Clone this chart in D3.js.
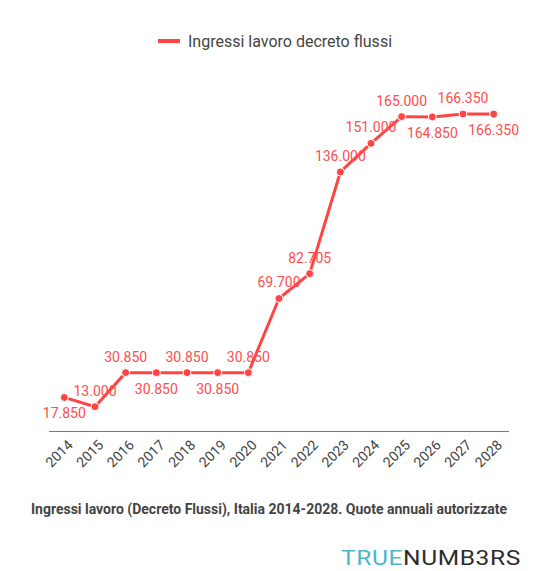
<!DOCTYPE html>
<html>
  <head>
    <meta charset="utf-8">
    <title>Ingressi lavoro decreto flussi</title>
    <script src="https://d3js.org/d3.v7.min.js"></script>
    <style>
      body { margin: 0; background: #fff; font-family: Roboto, "Noto Sans", sans-serif; }
      #chart { display: block; }
      .tick-label { font-size: 14px; fill: #444; }
      .value-label { font-size: 14px; fill: #ff4d4d; }
    </style>
  </head>
  <body>
    <svg id="chart" width="550" height="571"></svg>
    <script>
      // data
      var years = ["2014", "2015", "2016", "2017", "2018", "2019", "2020", "2021",
                   "2022", "2023", "2024", "2025", "2026", "2027", "2028"];
      var quotas = [17850, 13000, 30850, 30850, 30850, 30850, 30850, 69700,
                    82705, 136000, 151000, 165000, 164850, 166350, 166350];
      // which labels sit under their point
      var labelBelow = [true, false, false, true, false, true, false, false,
                        false, false, false, false, true, false, true];

      var red = "#ff4444";
      var it = d3.formatLocale({ decimal: ",", thousands: ".", grouping: [3], currency: ["€", ""] });

      var svg = d3.select("#chart");
      var margin = { top: 88, right: 41, bottom: 139, left: 49 };
      var width = 550, height = 571;

      var x = d3.scaleBand()
        .domain(years)
        .range([margin.left, width - margin.right]);
      var y = d3.scaleLinear()
        .domain([0, 180000])
        .range([height - margin.bottom - 0.5, margin.top]);

      // legend
      var legend = svg.append("g").attr("transform", "translate(158, 41)");
      legend.append("line")
        .attr("x1", 0).attr("x2", 22)
        .attr("stroke", red).attr("stroke-width", 4);
      legend.append("text")
        .attr("x", 30).attr("dy", "0.35em")
        .style("font-size", "16px").style("fill", "#444")
        .text("Ingressi lavoro decreto flussi");

      // x axis
      var axisY = y(0);
      svg.append("line")
        .attr("x1", margin.left).attr("x2", width - margin.right)
        .attr("y1", axisY).attr("y2", axisY)
        .attr("stroke", "#777").attr("stroke-width", 1);
      svg.selectAll(".tick-label")
        .data(years)
        .enter().append("text")
          .attr("class", "tick-label")
          .attr("text-anchor", "end")
          .attr("transform", function(d) {
            return "translate(" + (x(d) + x.bandwidth() / 2 + 2) + "," + (axisY + 7) + ") rotate(-45)";
          })
          .attr("dy", "0.75em")
          .text(function(d) { return d; });

      // line
      var points = years.map(function(d, i) { return { year: d, value: quotas[i], below: labelBelow[i] }; });
      var line = d3.line()
        .x(function(d) { return x(d.year) + x.bandwidth() / 2; })
        .y(function(d) { return y(d.value); });
      svg.append("path")
        .datum(points)
        .attr("d", line)
        .attr("fill", "none")
        .attr("stroke", red)
        .attr("stroke-width", 3)
        .attr("stroke-linejoin", "round");
      svg.selectAll(".dot")
        .data(points)
        .enter().append("circle")
          .attr("class", "dot")
          .attr("cx", function(d) { return x(d.year) + x.bandwidth() / 2; })
          .attr("cy", function(d) { return y(d.value); })
          .attr("r", 4)
          .attr("fill", red)
          .attr("stroke", "#fff")
          .attr("stroke-width", 1);
      svg.selectAll(".value-label")
        .data(points)
        .enter().append("text")
          .attr("class", "value-label")
          .attr("text-anchor", "middle")
          .attr("x", function(d) { return x(d.year) + x.bandwidth() / 2; })
          .attr("y", function(d) { return y(d.value) + (d.below ? 21 : -11); })
          .text(function(d) { return it.format(",")(d.value); });

      // title
      svg.append("text")
        .attr("x", 269).attr("y", 514)
        .attr("text-anchor", "middle")
        .style("font-size", "14px").style("font-weight", "bold").style("fill", "#444")
        .text("Ingressi lavoro (Decreto Flussi), Italia 2014-2028. Quote annuali autorizzate");

      // logo, stretched wide like the brand wordmark
      var logo = svg.append("text")
        .style("font-size", "20px")
        .style("letter-spacing", "0.5px");
      logo.append("tspan").style("fill", "#4ab8c8").text("TRUE");
      logo.append("tspan").style("fill", "#2d2d2d").text("NUMB3RS");
      var logoWidth = logo.node().getComputedTextLength();
      logo.attr("transform", "translate(341, 565) scale(" + (180 / logoWidth) + ", 1)");
    </script>
  </body>
</html>
